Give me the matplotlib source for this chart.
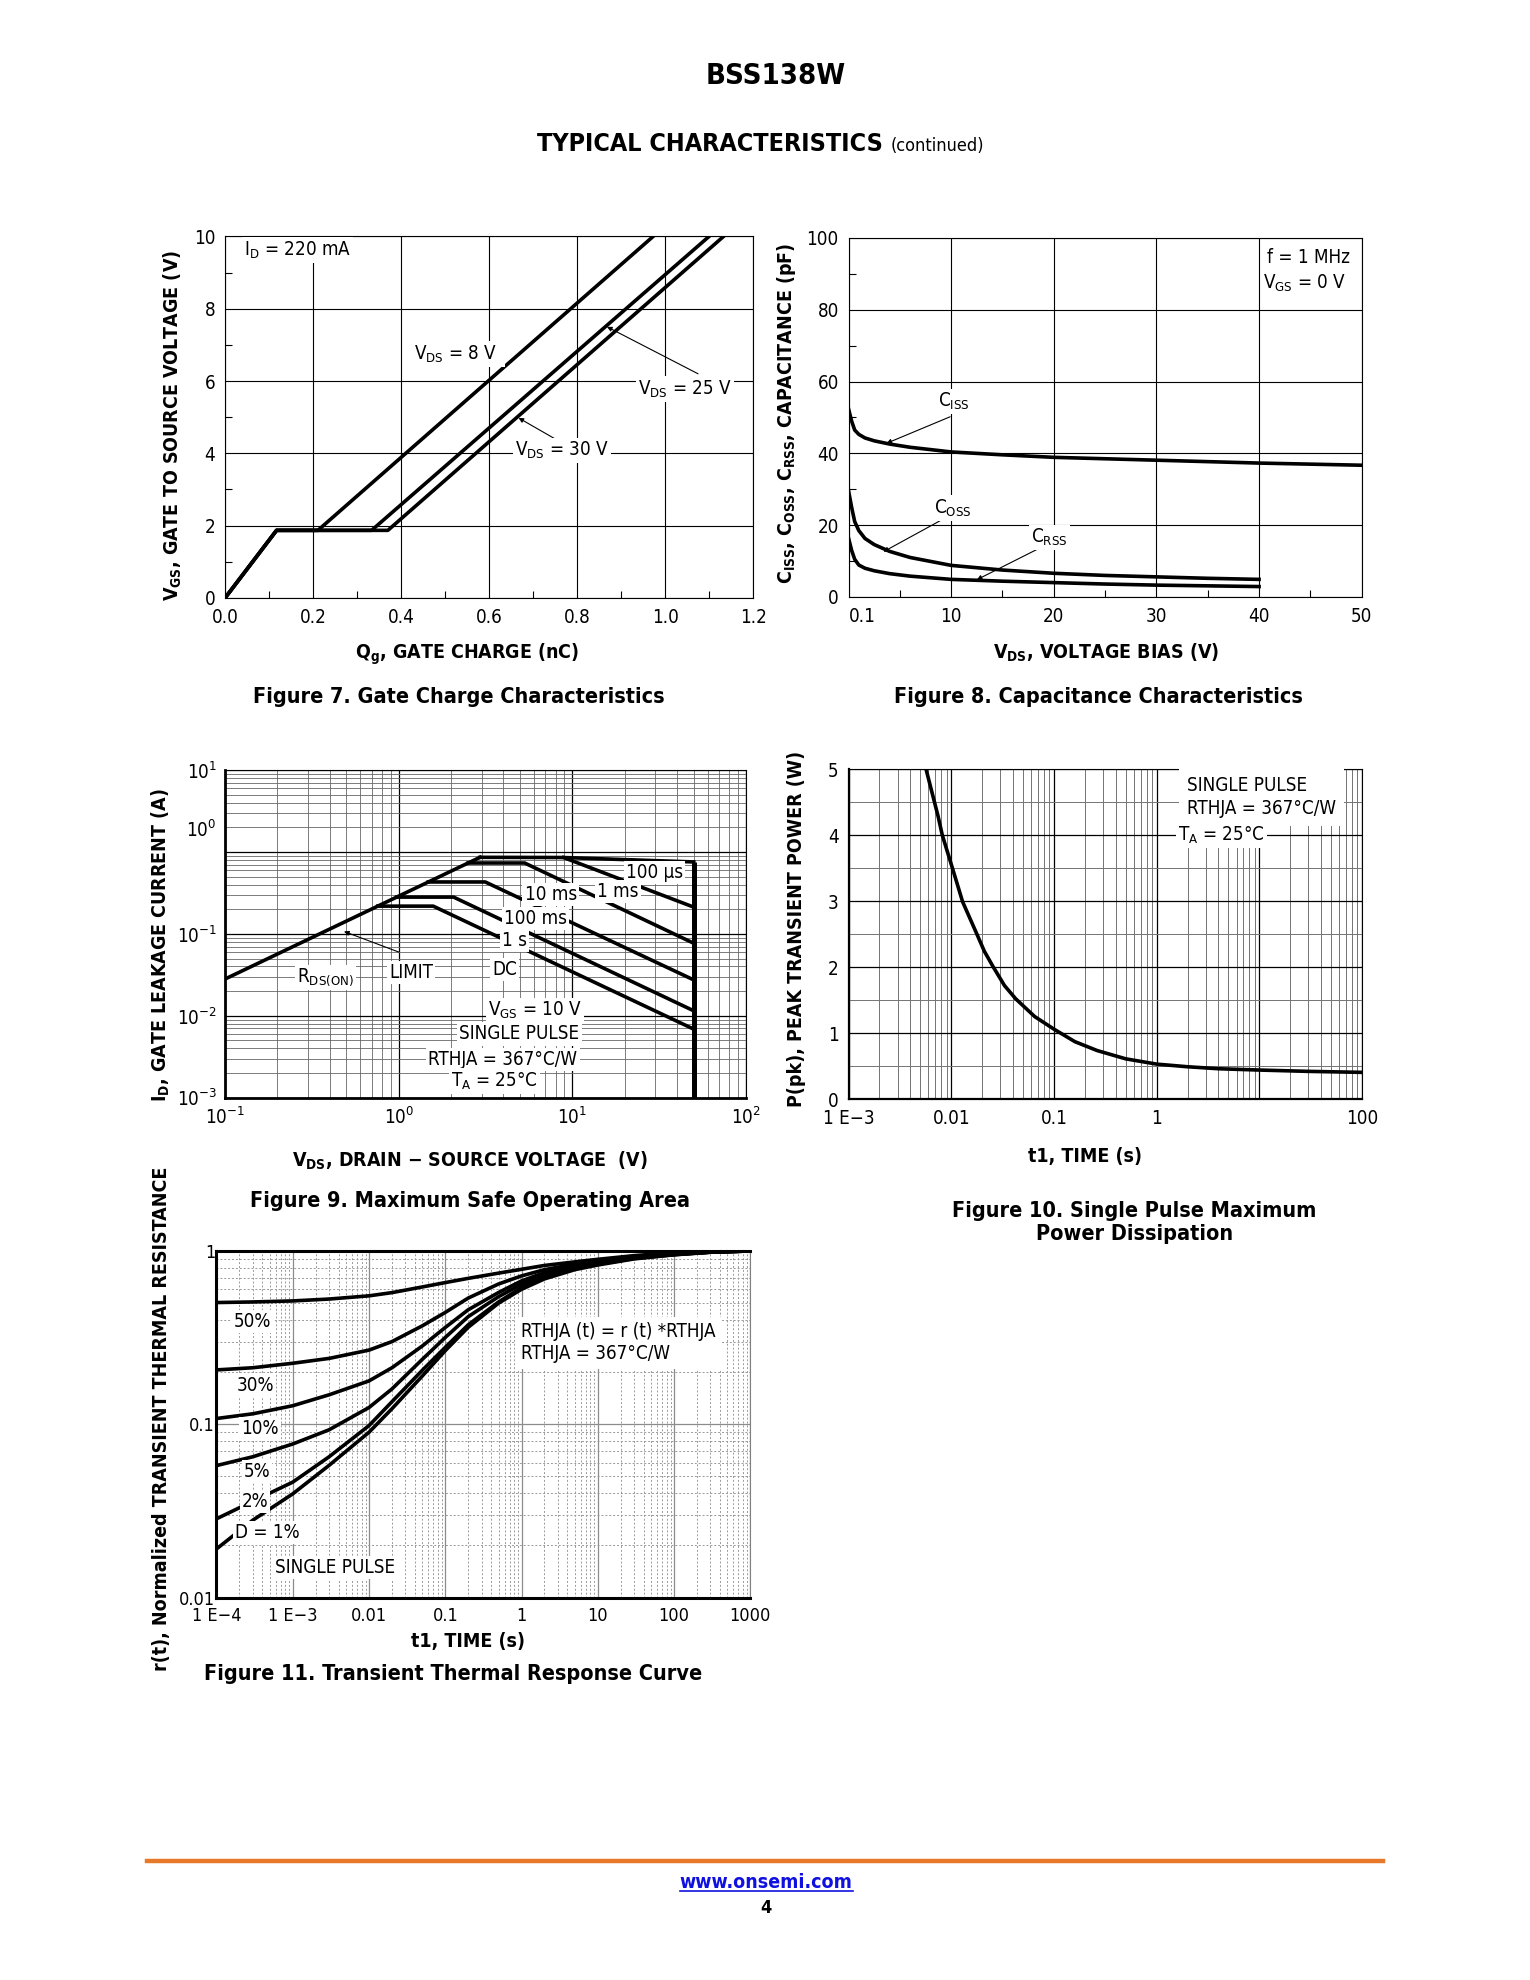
import os

import matplotlib
matplotlib.use("Agg")
import matplotlib.pyplot as plt
import matplotlib.transforms as mtransforms
from matplotlib import font_manager
from matplotlib.lines import Line2D
from matplotlib.ticker import FixedLocator, LogLocator, MultipleLocator, NullFormatter

# Figure 7: gate charge (nC) vs VGS (V)
QG_8V = [0.0, 0.117, 0.211, 0.973]
QG_25V = [0.0, 0.117, 0.333, 1.100]
QG_30V = [0.0, 0.117, 0.370, 1.133]
VGS_GATE = [0.0, 1.87, 1.87, 10.0]

# Figure 8: capacitance (pF) vs VDS (V); x = 0 is the "0.1" tick
VDS_CISS = [0, 0.3, 0.6, 1.0, 1.6, 2.5, 4, 6, 10, 15, 20, 25, 30, 35, 40, 45, 50]
CISS = [52.4, 49.0, 46.5, 45.3, 44.3, 43.5, 42.6, 41.7, 40.4, 39.6, 38.9, 38.5, 38.1, 37.7, 37.3, 37.0, 36.7]
VDS_OUT = [0, 0.3, 0.6, 1.0, 1.6, 2.5, 4, 6, 10, 15, 20, 25, 30, 35, 40]
COSS = [29.6, 25.0, 21.0, 18.5, 16.3, 14.6, 12.7, 11.0, 8.8, 7.5, 6.6, 6.0, 5.6, 5.2, 4.9]
CRSS = [16.4, 13.0, 10.5, 8.9, 8.0, 7.3, 6.5, 5.8, 4.9, 4.4, 4.0, 3.6, 3.3, 3.1, 2.9]

# Figure 9: safe operating area (V, A)
RDS_V = [0.1, 2.94]
RDS_I = [0.0281, 0.86]
SOA_100US_V = [2.94, 8.9, 50]
SOA_100US_I = [0.86, 0.855, 0.755]
SOA_1MS_V = [8.9, 50]
SOA_1MS_I = [0.855, 0.212]
SOA_10MS_V = [2.51, 5.31, 50]
SOA_10MS_I = [0.733, 0.733, 0.0768]
SOA_100MS_V = [1.48, 3.15, 50]
SOA_100MS_I = [0.430, 0.430, 0.0274]
SOA_1S_V = [0.973, 2.07, 50]
SOA_1S_I = [0.281, 0.281, 0.0115]
SOA_DC_V = [0.757, 1.58, 50]
SOA_DC_I = [0.218, 0.218, 0.00687]
VDS_MAX = [50, 50]
VDS_MAX_I = [0.755, 0.001]

# Figure 10: single pulse peak power (W) vs t1 (s)
T_PULSE = [0.00568, 0.00746, 0.00818, 0.0105, 0.0129, 0.018, 0.021, 0.0257, 0.033, 0.0424,
           0.065, 0.1, 0.16, 0.264, 0.5, 1.0, 2.0, 4.0, 10, 30, 100]
P_PEAK = [5.0, 4.28, 4.0, 3.45, 2.99, 2.48, 2.24, 2.0, 1.72, 1.52,
          1.25, 1.06, 0.87, 0.735, 0.61, 0.53, 0.49, 0.46, 0.44, 0.42, 0.405]

# Figure 11: normalized transient thermal resistance vs t1 (s)
T_THERM = [1e-4, 3e-4, 1e-3, 3e-3, 1e-2, 2e-2, 5e-2, 0.1, 0.2, 0.5, 1, 2, 5, 10, 30, 100, 300, 1000]
R_D50 = [0.504, 0.508, 0.515, 0.528, 0.551, 0.575, 0.62, 0.657, 0.695, 0.745, 0.784, 0.825, 0.865,
         0.895, 0.94, 0.978, 0.993, 1.0]
R_D30 = [0.206, 0.212, 0.225, 0.24, 0.268, 0.30, 0.37, 0.442, 0.535, 0.645, 0.718, 0.78, 0.84,
         0.876, 0.93, 0.965, 0.99, 1.0]
R_D10 = [0.108, 0.115, 0.128, 0.148, 0.178, 0.212, 0.283, 0.362, 0.458, 0.576, 0.672, 0.75, 0.82,
         0.857, 0.915, 0.957, 0.985, 1.0]
R_D5 = [0.0578, 0.065, 0.077, 0.093, 0.125, 0.16, 0.237, 0.317, 0.418, 0.545, 0.643, 0.725, 0.805,
        0.845, 0.91, 0.955, 0.985, 1.0]
R_D2 = [0.0285, 0.036, 0.0464, 0.065, 0.0983, 0.135, 0.205, 0.278, 0.375, 0.508, 0.615, 0.70, 0.795,
        0.838, 0.905, 0.952, 0.984, 1.0]
R_D1 = [0.0191, 0.028, 0.0397, 0.058, 0.09, 0.123, 0.19, 0.266, 0.363, 0.50, 0.601, 0.69, 0.78,
        0.83, 0.90, 0.95, 0.983, 1.0]

TICK_FS = 13.5
NOTE_FS = 13.5
LABEL_FS = 14
CAPTION_FS = 15.5
CURVE_LW = 2.6
WHITE_BOX = dict(facecolor="white", edgecolor="none", pad=1.5)

_fonts = font_manager.fontManager.ttflist
_names = {f.name for f in _fonts}
_condensed = [f for f in _fonts if f.name == "DejaVu Sans" and "Condensed" in os.path.basename(f.fname)]
if "Liberation Sans Narrow" in _names:
    plt.rcParams["font.family"] = ["Liberation Sans Narrow", "DejaVu Sans"]
elif _condensed:
    plt.rcParams["font.family"] = ["DejaVu Sans"]
    plt.rcParams["font.stretch"] = "condensed"
else:
    plt.rcParams["font.family"] = ["Liberation Sans", "DejaVu Sans"]
plt.rcParams["axes.unicode_minus"] = True


def sub(main, low):
    return main + r"$_\mathregular{" + low + "}$"


def note(ax, x, y, s, ha="center", **kw):
    ax.text(x, y, s, ha=ha, va="center", fontsize=NOTE_FS, bbox=WHITE_BOX, zorder=5, **kw)


def leader(ax, text_xy, tip_xy):
    ax.annotate("", xy=tip_xy, xytext=text_xy,
                arrowprops=dict(arrowstyle="-|>", lw=0.8, color="black", mutation_scale=7,
                                shrinkA=0, shrinkB=0), zorder=4)


def plot_gate_charge(fig):
    ax = fig.add_axes([0.1471, 0.6980, 0.3451, 0.1826])
    for qg in (QG_8V, QG_25V, QG_30V):
        ax.plot(qg, VGS_GATE, color="black", lw=CURVE_LW, zorder=3)
    ax.set_xlim(0, 1.2)
    ax.set_ylim(0, 10)
    ax.xaxis.set_major_locator(MultipleLocator(0.2))
    ax.xaxis.set_minor_locator(MultipleLocator(0.1))
    ax.yaxis.set_major_locator(MultipleLocator(2))
    ax.yaxis.set_minor_locator(MultipleLocator(1))
    ax.set_xticklabels([f"{v:.1f}" for v in ax.get_xticks()])
    ax.grid(which="major", color="black", lw=0.8)
    ax.tick_params(which="both", direction="in", labelsize=TICK_FS, length=5, width=0.8)
    ax.tick_params(which="major", length=0, pad=7)

    note(ax, 0.043, 9.62, sub("I", "D") + " = 220 mA", ha="left")
    note(ax, 0.53, 6.75, sub("V", "DS") + " = 8 V  ")
    note(ax, 1.045, 5.78, sub("V", "DS") + " = 25 V")
    note(ax, 0.765, 4.08, sub("V", "DS") + " = 30 V")
    leader(ax, (1.075, 6.2), (0.868, 7.5))
    leader(ax, (0.75, 4.4), (0.667, 4.98))

    fig.text(0.1131, 0.785, sub("V", "GS") + ", GATE TO SOURCE VOLTAGE (V)", rotation=90,
             ha="center", va="center", fontsize=LABEL_FS, fontweight="bold")
    fig.text(0.305, 0.6698, sub("Q", "g") + ", GATE CHARGE (nC)", ha="center", va="center",
             fontsize=LABEL_FS, fontweight="bold")
    fig.text(0.300, 0.6481, "Figure 7. Gate Charge Characteristics", ha="center", va="center",
             fontsize=CAPTION_FS, fontweight="bold")


def plot_capacitance(fig):
    ax = fig.add_axes([0.5546, 0.6985, 0.3354, 0.1813])
    ax.plot(VDS_CISS, CISS, color="black", lw=CURVE_LW, zorder=3)
    ax.plot(VDS_OUT, COSS, color="black", lw=CURVE_LW, zorder=3)
    ax.plot(VDS_OUT, CRSS, color="black", lw=CURVE_LW, zorder=3)
    ax.set_xlim(0, 50)
    ax.set_ylim(0, 100)
    ax.set_xticks([0, 10, 20, 30, 40, 50])
    ax.set_xticklabels(["0.1", "10", "20", "30", "40", "50"])
    ax.get_xticklabels()[0].set_horizontalalignment("left")
    ax.xaxis.set_minor_locator(FixedLocator([5, 15, 25, 35, 45]))
    ax.yaxis.set_major_locator(MultipleLocator(20))
    ax.yaxis.set_minor_locator(MultipleLocator(10))
    ax.grid(which="major", color="black", lw=0.8)
    ax.tick_params(which="both", direction="in", labelsize=TICK_FS, length=5, width=0.8)
    ax.tick_params(which="major", length=0, pad=7)

    note(ax, 10.3, 54.5, sub("C", "ISS"))
    note(ax, 10.2, 24.8, sub("C", "OSS"))
    note(ax, 19.6, 16.6, sub("C", "RSS"))
    leader(ax, (9.9, 50.2), (3.7, 42.8))
    leader(ax, (8.9, 21.2), (3.4, 12.6))
    leader(ax, (18.4, 13.3), (12.5, 4.8))
    note(ax, 48.9, 94.6, "f = 1 MHz", ha="right")
    note(ax, 48.5, 87.4, sub("V", "GS") + " = 0 V", ha="right")

    fig.text(0.514, 0.791, sub("C", "ISS") + ", " + sub("C", "OSS") + ", " + sub("C", "RSS")
             + ", CAPACITANCE (pF)", rotation=90, ha="center", va="center",
             fontsize=LABEL_FS, fontweight="bold")
    fig.text(0.7231, 0.6705, sub("V", "DS") + ", VOLTAGE BIAS (V)", ha="center", va="center",
             fontsize=LABEL_FS, fontweight="bold")
    fig.text(0.7182, 0.6481, "Figure 8. Capacitance Characteristics", ha="center", va="center",
             fontsize=CAPTION_FS, fontweight="bold")


def plot_soa(fig):
    ax = fig.add_axes([0.1471, 0.4456, 0.3405, 0.1655])
    ax.set_xscale("log")
    ax.set_yscale("log")
    ax.plot(RDS_V, RDS_I, color="black", lw=CURVE_LW, zorder=3)
    for v, i in ((SOA_100US_V, SOA_100US_I), (SOA_1MS_V, SOA_1MS_I), (SOA_10MS_V, SOA_10MS_I),
                 (SOA_100MS_V, SOA_100MS_I), (SOA_1S_V, SOA_1S_I), (SOA_DC_V, SOA_DC_I)):
        ax.plot(v, i, color="black", lw=CURVE_LW, zorder=3)
    ax.plot(VDS_MAX, VDS_MAX_I, color="black", lw=3.6, zorder=3, solid_capstyle="butt")
    ax.set_xlim(0.1, 100)
    ax.set_ylim(0.001, 10)
    ax.xaxis.set_minor_locator(LogLocator(base=10, subs=range(2, 10)))
    ax.yaxis.set_minor_locator(LogLocator(base=10, subs=range(2, 10)))
    ax.xaxis.set_minor_formatter(NullFormatter())
    ax.yaxis.set_minor_formatter(NullFormatter())
    ax.grid(which="major", color="black", lw=0.9)
    ax.grid(which="minor", color="0.4", lw=0.6)
    ax.tick_params(which="both", length=0, labelsize=TICK_FS, pad=6)
    for side in ("left", "bottom"):
        ax.spines[side].set_linewidth(2.0)
    fig.canvas.draw()
    for t in ax.get_yticklabels():
        if t.get_position()[1] == 1.0:
            t.set_transform(t.get_transform() + mtransforms.ScaledTranslation(0, 0.24, fig.dpi_scale_trans))

    note(ax, 29.8, 0.56, "100 μs")
    note(ax, 18.3, 0.325, "1 ms")
    note(ax, 7.5, 0.30, "10 ms")
    note(ax, 6.1, 0.153, "100 ms")
    note(ax, 4.65, 0.083, "1 s")
    note(ax, 4.06, 0.037, "DC")
    note(ax, 0.38, 0.0294, sub("R", "DS(ON)"))
    note(ax, 1.18, 0.034, "LIMIT")
    leader(ax, (1.0, 0.06), (0.484, 0.107))
    note(ax, 11.3, 0.0115, sub("V", "GS") + " = 10 V", ha="right")
    note(ax, 11.0, 0.0060, "SINGLE PULSE", ha="right")
    note(ax, 10.7, 0.00294, "RTHJA = 367°C/W", ha="right")
    note(ax, 3.55, 0.0016, sub("T", "A") + " = 25°C")

    fig.text(0.105, 0.5227, sub("I", "D") + ", GATE LEAKAGE CURRENT (A)", rotation=90,
             ha="center", va="center", fontsize=LABEL_FS, fontweight="bold")
    fig.text(0.3075, 0.4137, sub("V", "DS") + ", DRAIN − SOURCE VOLTAGE  (V)", ha="center",
             va="center", fontsize=LABEL_FS, fontweight="bold")
    fig.text(0.3075, 0.3934, "Figure 9. Maximum Safe Operating Area", ha="center", va="center",
             fontsize=CAPTION_FS, fontweight="bold")


def plot_peak_power(fig):
    ax = fig.add_axes([0.5546, 0.4449, 0.3356, 0.1667])
    ax.set_xscale("log")
    ax.plot(T_PULSE, P_PEAK, color="black", lw=CURVE_LW, zorder=3)
    ax.set_xlim(1e-3, 100)
    ax.set_ylim(0, 5)
    ax.set_xticks([1e-3, 1e-2, 0.1, 1, 10, 100])
    ax.set_xticklabels(["1 E−3", "0.01", "0.1", "1", "", "100"])
    ax.xaxis.set_minor_locator(LogLocator(base=10, subs=range(2, 10)))
    ax.xaxis.set_minor_formatter(NullFormatter())
    ax.yaxis.set_major_locator(MultipleLocator(1))
    ax.yaxis.set_minor_locator(MultipleLocator(0.5))
    ax.grid(which="major", color="black", lw=0.9)
    ax.grid(which="minor", color="0.45", lw=0.7)
    ax.tick_params(which="both", length=0, labelsize=TICK_FS, pad=7)
    for side in ("left", "bottom"):
        ax.spines[side].set_linewidth(1.6)

    ax.text(1.97, 4.58, "SINGLE PULSE\nRTHJA = 367°C/W", ha="left", va="center",
            fontsize=NOTE_FS, linespacing=1.25, zorder=5,
            bbox=dict(facecolor="white", edgecolor="none", pad=6))
    note(ax, 4.28, 3.99, sub("T", "A") + " = 25°C")

    fig.text(0.5207, 0.5307, "P(pk), PEAK TRANSIENT POWER (W)", rotation=90, ha="center",
             va="center", fontsize=LABEL_FS, fontweight="bold")
    fig.text(0.709, 0.4157, "t1, TIME (s)", ha="center", va="center", fontsize=LABEL_FS,
             fontweight="bold")
    fig.text(0.7413, 0.3824, "Figure 10. Single Pulse Maximum\nPower Dissipation", ha="center",
             va="center", fontsize=CAPTION_FS, fontweight="bold", linespacing=1.2)


def plot_thermal(fig):
    ax = fig.add_axes([0.1415, 0.1931, 0.3489, 0.1751])
    ax.set_xscale("log")
    ax.set_yscale("log")
    for r in (R_D50, R_D30, R_D10, R_D5, R_D2, R_D1):
        ax.plot(T_THERM, r, color="black", lw=CURVE_LW, zorder=3)
    ax.set_xlim(1e-4, 1000)
    ax.set_ylim(0.01, 1)
    ax.set_xticks([1e-4, 1e-3, 1e-2, 0.1, 1, 10, 100, 1000])
    ax.set_xticklabels(["1 E−4", "1 E−3", "0.01", "0.1", "1", "10", "100", "1000"])
    ax.set_yticks([0.01, 0.1, 1])
    ax.set_yticklabels(["0.01", "0.1", "1"])
    ax.xaxis.set_minor_locator(LogLocator(base=10, subs=range(2, 10)))
    ax.yaxis.set_minor_locator(LogLocator(base=10, subs=range(2, 10)))
    ax.xaxis.set_minor_formatter(NullFormatter())
    ax.yaxis.set_minor_formatter(NullFormatter())
    ax.grid(which="major", color="0.55", lw=0.9)
    ax.grid(which="minor", color="0.6", lw=0.7, ls=(0, (2, 2)))
    ax.tick_params(which="both", length=0, labelsize=13)
    ax.tick_params(axis="x", pad=7)
    ax.tick_params(axis="y", pad=1)
    for side in ("left", "bottom", "top"):
        ax.spines[side].set_linewidth(2.2)
    ax.spines["right"].set_color("0.5")

    note(ax, 3.0e-4, 0.39, "50%")
    note(ax, 3.2e-4, 0.167, "30%")
    note(ax, 3.7e-4, 0.094, "10%")
    note(ax, 3.4e-4, 0.0536, "5%")
    note(ax, 3.2e-4, 0.036, "2%")
    note(ax, 4.7e-4, 0.0239, "D = 1%")
    note(ax, 3.6e-3, 0.015, "SINGLE PULSE")
    ax.text(0.97, 0.295, "RTHJA (t) = r (t) *RTHJA\nRTHJA = 367°C/W", ha="left", va="center",
            fontsize=NOTE_FS, linespacing=1.2, zorder=5,
            bbox=dict(facecolor="white", edgecolor="none", pad=4))

    fig.text(0.1057, 0.2832, "r(t), Normalized TRANSIENT THERMAL RESISTANCE", rotation=90,
             ha="center", va="center", fontsize=LABEL_FS, fontweight="bold")
    fig.text(0.3058, 0.1711, "t1, TIME (s)", ha="center", va="center", fontsize=LABEL_FS,
             fontweight="bold")
    fig.text(0.2959, 0.1545, "Figure 11. Transient Thermal Response Curve", ha="center",
             va="center", fontsize=CAPTION_FS, fontweight="bold")


def main():
    fig = plt.figure(figsize=(15.3, 19.8), dpi=100)
    fig.text(0.5067, 0.9617, "BSS138W", ha="center", va="center", fontsize=21, fontweight="bold")
    head = fig.text(0.3512, 0.9272, "TYPICAL CHARACTERISTICS", ha="left", va="center",
                    fontsize=18, fontweight="bold")
    fig.canvas.draw()
    bb = head.get_window_extent().transformed(fig.transFigure.inverted())
    fig.text(bb.x1 + 0.005, 0.9265, "(continued)", ha="left", va="center", fontsize=13)

    plot_gate_charge(fig)
    plot_capacitance(fig)
    plot_soa(fig)
    plot_peak_power(fig)
    plot_thermal(fig)

    fig.add_artist(Line2D([0.0961, 0.9039], [0.0601, 0.0601], transform=fig.transFigure,
                          color="#E8792B", lw=3.2))
    link = fig.text(0.5007, 0.0490, "www.onsemi.com", ha="center", va="center", fontsize=14,
                    fontweight="bold", color="#1010E0")
    fig.canvas.draw()
    lb = link.get_window_extent().transformed(fig.transFigure.inverted())
    fig.add_artist(Line2D([lb.x0, lb.x1], [lb.y0 + 0.0006, lb.y0 + 0.0006],
                          transform=fig.transFigure, color="#1010E0", lw=1.2))
    fig.text(0.5007, 0.0364, "4", ha="center", va="center", fontsize=13, fontweight="bold")

    fig.savefig("out.png", dpi=100, facecolor="white")
    plt.close(fig)


if __name__ == "__main__":
    main()
